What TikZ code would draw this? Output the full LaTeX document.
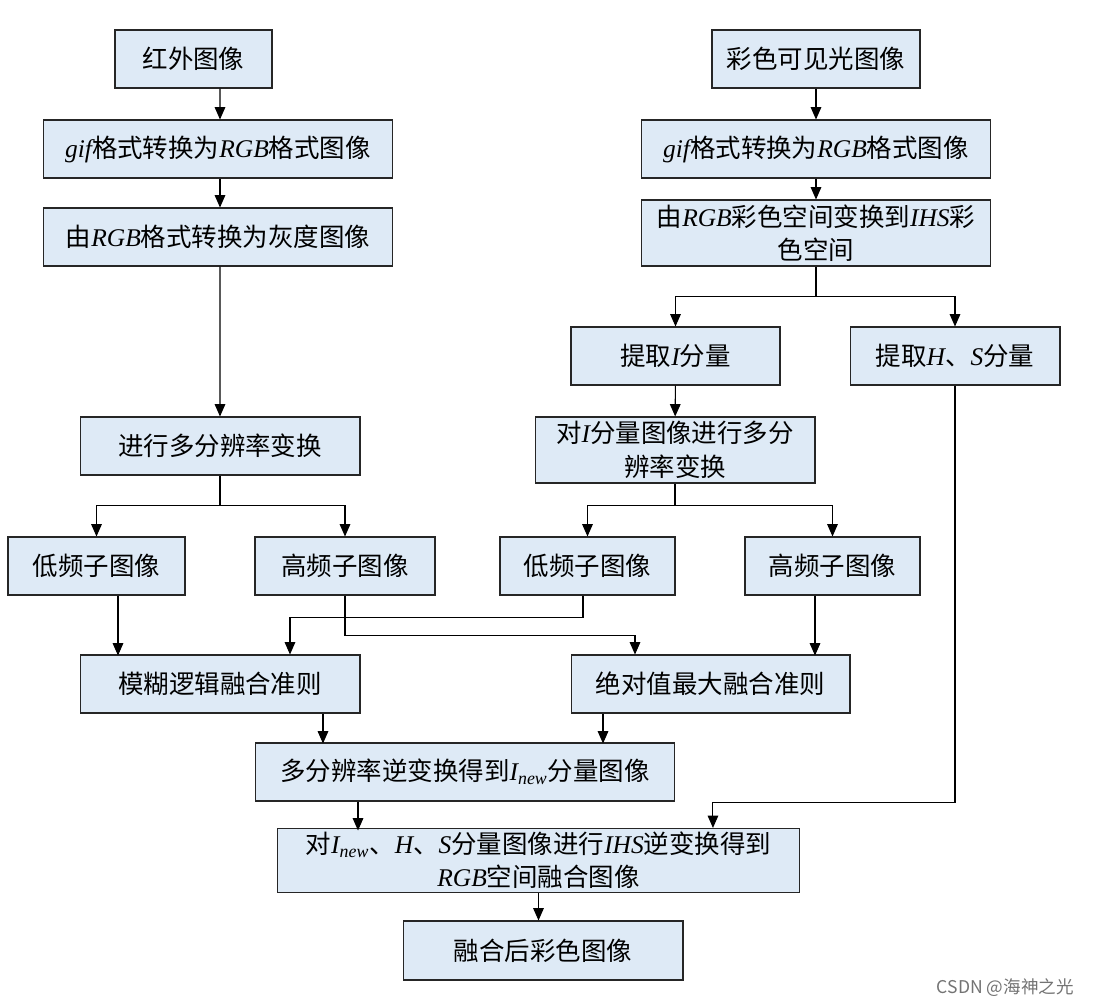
\documentclass[tikz,border=0pt]{standalone}
\usepackage{fontspec}
\setmainfont{Noto Sans CJK SC}
\newfontfamily\latinf{Liberation Serif}
\usetikzlibrary{arrows.meta}
\newcommand\la[1]{{\latinf\itshape #1}}
\definecolor{boxfill}{HTML}{DEEAF6}
\begin{document}
\begin{tikzpicture}[x=0.02cm,y=-0.02cm,
  box/.style={draw=black!85,fill=boxfill,line width=0.6pt,minimum height=1.16cm,inner sep=2pt,align=center,font=\fontsize{14.5}{19}\selectfont},
  ln/.style={line width=0.6pt,black},
  arr/.style={ln,-{Triangle[length=7pt,width=6pt]}}]
\useasboundingbox (0,0) rectangle (1093,1005);
\node[box,minimum width=3.14cm] (n1) at (193.5,59) {红外图像};
\node[box,minimum width=7cm] (n2) at (218,149) {\la{gif}格式转换为\la{RGB}格式图像};
\node[box,minimum width=7cm] (n3) at (218,237) {由\la{RGB}格式转换为灰度图像};
\node[box,minimum width=4.16cm] (n4) at (816,59) {彩色可见光图像};
\node[box,minimum width=7cm] (n5) at (816,149) {\la{gif}格式转换为\la{RGB}格式图像};
\node[box,minimum width=7cm,minimum height=1.32cm] (n6) at (816,233) {由\la{RGB}彩色空间变换到\la{IHS}彩\\色空间};
\node[box,minimum width=4.18cm] (n7) at (675.5,356) {提取\la{I}分量};
\node[box,minimum width=4.2cm] (n8) at (955,356) {提取\la{H}、\la{S}分量};
\node[box,minimum width=5.6cm] (n9) at (220,446) {进行多分辨率变换};
\node[box,minimum width=5.6cm,minimum height=1.32cm] (n10) at (675,450) {对\la{I}分量图像进行多分\\辨率变换};
\node[box,minimum width=3.54cm] (n11) at (96.5,566) {低频子图像};
\node[box,minimum width=3.6cm] (n12) at (345,566) {高频子图像};
\node[box,minimum width=3.5cm] (n13) at (587.5,566) {低频子图像};
\node[box,minimum width=3.5cm] (n14) at (832.5,566) {高频子图像};
\node[box,minimum width=5.6cm] (n15) at (220,684) {模糊逻辑融合准则};
\node[box,minimum width=5.58cm] (n16) at (710.5,684) {绝对值最大融合准则};
\node[box,minimum width=8.4cm] (n17) at (465,772) {多分辨率逆变换得到\la{I}\textsubscript{\la{new}}分量图像};
\node[box,minimum width=10.46cm,minimum height=1.22cm] (n18) at (538.5,860.5) {对\la{I}\textsubscript{\la{new}}、\la{H}、\la{S}分量图像进行\la{IHS}逆变换得到\\\la{RGB}空间融合图像};
\node[box,minimum width=5.6cm,minimum height=1.18cm] (n19) at (543,950.5) {融合后彩色图像};
\node[text=black!55,font=\fontsize{10}{12}\selectfont,anchor=east] (wm) at (1080,988) {CSDN @海神之光};
% left column
\draw[arr] ([xshift=0.53cm]n1.south) -- ([xshift=0.04cm]n2.north);
\draw[arr] ([xshift=0.04cm]n2.south) -- ([xshift=0.04cm]n3.north);
\draw[arr] ([xshift=0.04cm]n3.south) -- (n9.north);
% right column
\draw[arr] (n4) -- (n5);
\draw[arr] (n5) -- (n6);
\draw[ln] (n6.south) -- ++(0,30) coordinate (s6);
\draw[arr] (s6) -| (n7);
\draw[arr] (s6) -| (n8);
\draw[arr] (n7) -- (n10);
\draw[ln] (n9.south) -- ++(0,30) coordinate (s9);
\draw[arr] (s9) -| (n11);
\draw[arr] (s9) -| (n12);
\draw[ln] (n10.south) -- ++(0,22) coordinate (s10);
\draw[arr] (s10) -| (n13);
\draw[arr] (s10) -| (n14);
\draw[arr] ([xshift=0.43cm]n11.south) -- ++(0,60);
\draw[arr] ([xshift=-0.09cm]n13.south) -- ++(0,22) -| ([xshift=1.4cm]n15.north);
\draw[arr] (n12.south) -- ++(0,40) -| ([xshift=-1.51cm]n16.north);
\draw[arr] ([xshift=-0.35cm]n14.south) -- ++(0,60);
\draw[arr] ([xshift=2.06cm]n15.south) -- ++(0,30);
\draw[arr] ([xshift=-2.15cm]n16.south) -- ++(0,30);
\draw[arr] (n8.south) -- ++(0,417) -| ([xshift=3.49cm]n18.north);
\draw[arr] ([xshift=-2.14cm]n17.south) -- ++(0,29);
\draw[arr] (n18.south) -- (n18.south |- n19.north);
\end{tikzpicture}
\end{document}
